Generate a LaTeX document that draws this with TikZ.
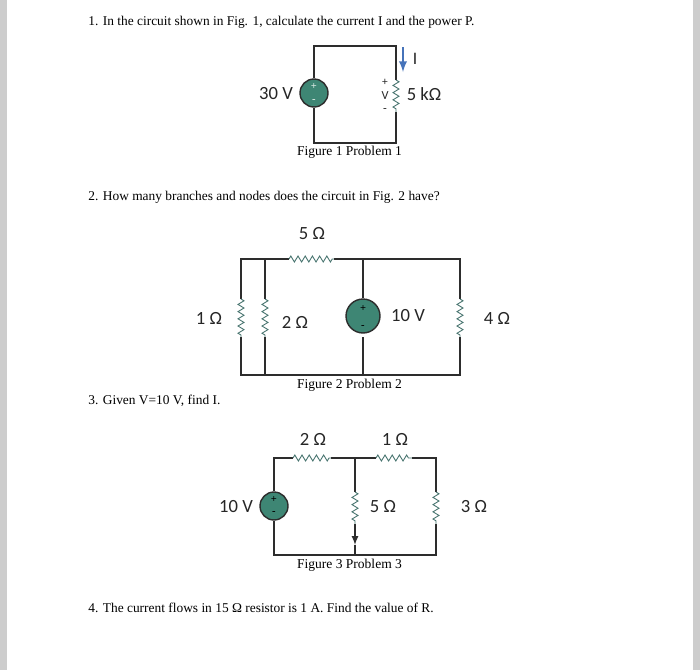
\documentclass[tikz,border=0pt]{standalone}
\usepackage{fontspec}
\usepackage{tikz}
\usepackage{xcolor}
\usetikzlibrary{decorations.pathmorphing}
\setmainfont{Liberation Serif}
\newfontfamily\labelfont{Carlito}
\definecolor{srcgreen}{RGB}{62,134,116}
\definecolor{wiregray}{RGB}{45,45,45}
\definecolor{resgreen}{RGB}{70,115,110}
\definecolor{arrowblue}{RGB}{70,115,185}
\definecolor{edgegray}{RGB}{205,205,205}
\tikzset{
  wire/.style={draw=wiregray,line width=0.75pt},
  resline/.style={draw=resgreen,line width=0.5pt,decorate,
    decoration={zigzag,segment length=4.1pt,amplitude=1.7pt}},
  source/.style={circle,draw=wiregray,fill=srcgreen,line width=0.8pt,inner sep=0pt},
  sign/.style={font=\fontsize{6}{6}\selectfont\bfseries,text=black,inner sep=0pt},
  problem/.style={anchor=base west,font=\fontsize{7.63}{9}\selectfont,inner sep=0pt},
  caption/.style={font=\fontsize{7.7}{9}\selectfont,inner sep=0pt},
  value/.style={font=\labelfont\fontsize{10.6}{12}\selectfont,text=black!85,inner sep=0pt}
}
\begin{document}
\begin{tikzpicture}[x=0.02cm,y=-0.02cm]
\useasboundingbox (0,0) rectangle (700,670);
\fill[white] (0,0) rectangle (700,670);
% page edges
\fill[edgegray] (0,0) rectangle (7,670);
\fill[edgegray] (693,0) rectangle (700,670);

% Problem texts
\node[problem] (q1) at (88,25) {1. In the circuit shown in Fig. 1, calculate the current I and the power P.};
\node[problem] (q2) at (88,200) {2. How many branches and nodes does the circuit in Fig. 2 have?};
\node[problem] (q3) at (88,404) {3. Given V=10 V, find I.};
\node[problem] (q4) at (88,612) {4. The current flows in 15 Ω resistor is 1 A. Find the value of R.};

% Figure 1
\coordinate (a1) at (314,46);
\coordinate (a2) at (396,46);
\coordinate (a3) at (396,80);
\coordinate (a4) at (396,112);
\coordinate (a5) at (396,143);
\coordinate (a6) at (314,143);
\node[source,minimum size=0.56cm] (s1) at (314,93) {};
\node[sign,text=white!80!srcgreen] (s1p) at (314,87) {+};
\node[sign,text=white!80!srcgreen] (s1m) at (314,101) {-};
\draw[wire] (s1) -- (a1) -- (a2) -- (a3);
\draw[wire] (a4) -- (a5) -- (a6) -- (s1);
\draw[resline] (a3) -- (a4);
\coordinate (i1) at (403,47);
\coordinate (i2) at (403,72);
\draw[arrowblue,line width=1.1pt,-latex] (i1) -- (i2);
\node[value,font=\labelfont\fontsize{10}{10}\selectfont] (li) at (415,59) {I};
\node[value,font=\labelfont\fontsize{6.5}{7}\selectfont] (vp) at (385,82) {+};
\node[value,font=\labelfont\fontsize{7}{7}\selectfont] (vv) at (385,96) {V};
\node[value,font=\labelfont\fontsize{7}{7}\selectfont] (vm) at (385,111) {-};
\node[value] (r1) at (424,94) {5 kΩ};
\node[value] (v1) at (276,94) {30 V};
\node[caption] (c1) at (349.5,152) {Figure 1 Problem 1};

% Figure 2
\coordinate (b1) at (241,259);
\coordinate (b2) at (265,259);
\coordinate (b3) at (289,259);
\coordinate (b4) at (334,259);
\coordinate (b5) at (363,259);
\coordinate (b6) at (460,259);
\coordinate (b7) at (241,375);
\coordinate (b8) at (265,375);
\coordinate (b9) at (363,375);
\coordinate (b10) at (460,375);
\coordinate (b11) at (241,299);
\coordinate (b12) at (241,337);
\coordinate (b13) at (265,299);
\coordinate (b14) at (265,337);
\coordinate (b15) at (460,299);
\coordinate (b16) at (460,337);
\coordinate (b17) at (363,337);
\node[source,minimum size=0.68cm] (s2) at (363,316) {};
\node[sign] (s2p) at (363,309) {+};
\node[sign] (s2m) at (363,327) {-};
\draw[wire] (b11) -- (b1) -- (b3);
\draw[wire] (b2) -- (b13);
\draw[wire] (b4) -- (b6) -- (b15);
\draw[wire] (b5) -- (s2);
\draw[wire] (b17) -- (b9);
\draw[wire] (b12) -- (b7) -- (b10) -- (b16);
\draw[wire] (b14) -- (b8);
\draw[resline] (b3) -- (b4);
\draw[resline] (b11) -- (b12);
\draw[resline] (b13) -- (b14);
\draw[resline] (b15) -- (b16);
\node[value] (r21) at (312,234) {5 Ω};
\node[value] (r22) at (209,318) {1 Ω};
\node[value] (r23) at (295,322) {2 Ω};
\node[value] (v2) at (408,316) {10 V};
\node[value] (r24) at (497,318) {4 Ω};
\node[caption] (c2) at (349.5,385) {Figure 2 Problem 2};

% Figure 3
\coordinate (d1) at (274,458);
\coordinate (d2) at (293,458);
\coordinate (d3) at (331,458);
\coordinate (d4) at (355,458);
\coordinate (d5) at (376,458);
\coordinate (d6) at (412,458);
\coordinate (d7) at (436,458);
\coordinate (d8) at (355,492);
\coordinate (d9) at (355,524);
\coordinate (d10) at (355,555);
\coordinate (d11) at (436,492);
\coordinate (d12) at (436,524);
\coordinate (d13) at (436,555);
\coordinate (d14) at (274,555);
\coordinate (d15) at (355,545);
\node[source,minimum size=0.56cm] (s3) at (274,506) {};
\node[sign] (s3p) at (274,500) {+};
\node[sign] (s3m) at (274,513) {-};
\draw[wire] (s3) -- (d1) -- (d2);
\draw[wire] (d3) -- (d5);
\draw[wire] (d6) -- (d7) -- (d11);
\draw[wire] (d4) -- (d8);
\draw[wire,-latex] (d9) -- (d15);
\draw[wire] (d15) -- (d10);
\draw[wire] (d12) -- (d13) -- (d14) -- (s3);
\draw[resline] (d2) -- (d3);
\draw[resline] (d5) -- (d6);
\draw[resline] (d8) -- (d9);
\draw[resline] (d11) -- (d12);
\node[value] (r31) at (313,439) {2 Ω};
\node[value] (r32) at (395,439) {1 Ω};
\node[value] (v3) at (236,507) {10 V};
\node[value] (r33) at (383,507) {5 Ω};
\node[value] (r34) at (474,507) {3 Ω};
\node[caption] (c3) at (349.5,565) {Figure 3 Problem 3};
\end{tikzpicture}
\end{document}
